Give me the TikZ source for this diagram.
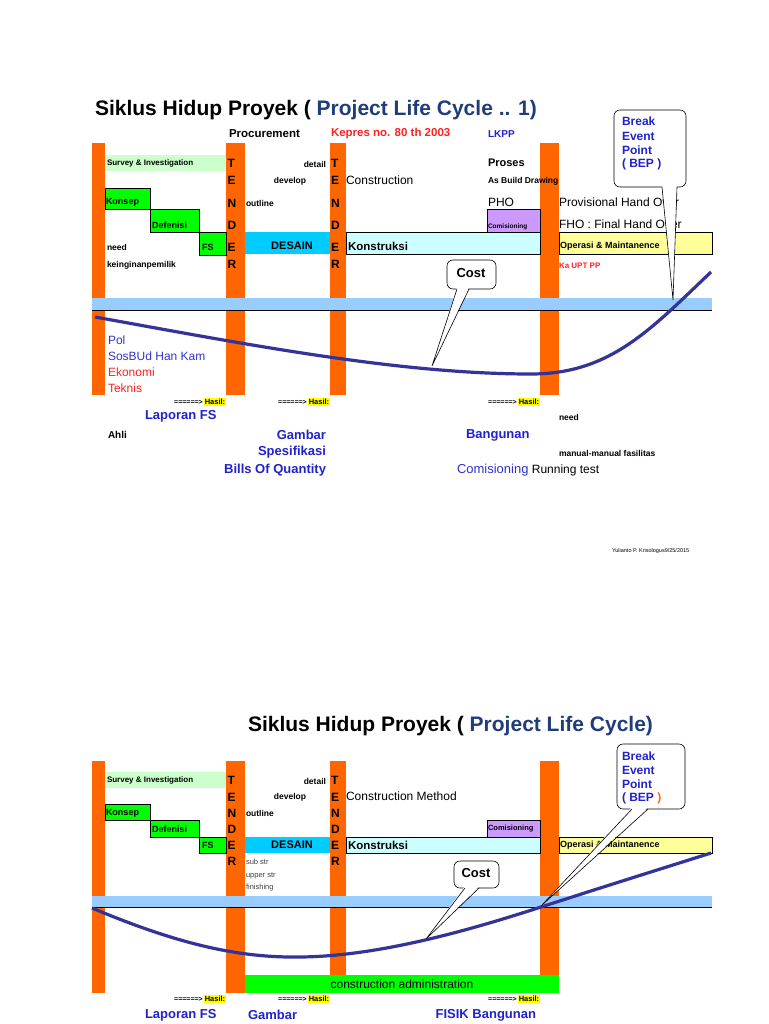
\documentclass[tikz,border=0pt]{standalone}
\usepackage{fontspec}
\setmainfont{Liberation Sans}
\begin{document}
\definecolor{orng}{HTML}{FF6600}
\definecolor{band}{HTML}{99CCFF}
\definecolor{lgreen}{HTML}{CCFFCC}
\definecolor{grn}{HTML}{00FF00}
\definecolor{cyn}{HTML}{00CCFF}
\definecolor{lcyn}{HTML}{CCFFFF}
\definecolor{purp}{HTML}{CC99FF}
\definecolor{lyel}{HTML}{FFFF99}
\definecolor{yel}{HTML}{FFFF00}
\definecolor{navy}{HTML}{1F3D7A}
\definecolor{tblue}{HTML}{2222CC}
\definecolor{lblue}{HTML}{3333CC}
\definecolor{tred}{HTML}{FF2222}
\definecolor{curv}{HTML}{333399}
\begin{tikzpicture}[x=1pt,y=-1pt,
  every node/.style={inner sep=0pt, outer sep=0pt},
  fz/.style={font=\fontsize{#1}{#1}\selectfont},
  bfz/.style={font=\fontsize{#1}{#1}\selectfont\bfseries},
  L/.style={anchor=west},
  R/.style={anchor=east},
  bar/.style={fill=orng},
  bx/.style={draw=black, line width=0.6pt},
  cost/.style={curv, line width=3.2pt},
  call/.style={draw=black, fill=white, rounded corners=6pt, line width=0.6pt}]
\useasboundingbox (0,0) rectangle (768,1024);
\fill[white] (0,0) rectangle (768,1024);

% ================= SLIDE 1 =================
\node[L,bfz=21] (t1a) at (95,110) {Siklus Hidup Proyek (};
\node[L,bfz=21,text=navy] (t1b) at (t1a.east) {\ Project Life Cycle .. 1)};

\node[L,bfz=11.5] (proc1) at (229,134) {Procurement};
\node[L,bfz=11.5,text=tred] (kep1) at (331,134) {Kepres no. 80 th 2003};
\node[L,bfz=10,text=tblue] (lkpp1) at (488,134) {LKPP};

\fill[bar] (92,143) rectangle (105,395);
\fill[bar] (226,143) rectangle (245,395);
\fill[bar] (330,143) rectangle (346,395);
\fill[bar] (540,143) rectangle (559,395);

\fill[lgreen] (105,155) rectangle (226,171);
\node[L,bfz=8] (sur1) at (107,163) {Survey \& Investigation};
\draw[bx,fill=grn] (105,188) rectangle (150,209);
\node[L,bfz=9] (kon1) at (106,202) {Konsep};
\draw[bx,fill=grn] (150,209) rectangle (199,232);
\node[L,bfz=9] (def1) at (152,225) {Defenisi};
\draw[bx,fill=grn] (199,232) rectangle (226,255);
\node[L,bfz=9] (fs1) at (202,247) {FS};
\fill[cyn] (245,232) rectangle (330,254);
\node[bfz=11] (des1) at (292,246) {DESAIN};
\draw[bx,fill=lcyn] (346,232) rectangle (540,254);
\node[L,bfz=11.5] (ks1) at (348,246) {Konstruksi};
\draw[bx,fill=purp] (487,209) rectangle (540,232);
\node[L,bfz=6.5] (com1) at (488,227) {Comisioning};
\draw[bx,fill=lyel] (559,232) rectangle (712,254);
\node[L,bfz=9] (op1) at (560,246) {Operasi \& Maintanence};

\foreach \l/\y [count=\i] in {T/163,E/180,N/203,D/225,E/247,R/264}{
  \node[L,bfz=12] (ta\i) at (227.5,\y) {\l};
  \node[L,bfz=12] (tb\i) at (331,\y) {\l};
}
\node[R,bfz=8.5] (det1) at (326,164) {detail};
\node[bfz=8.5] (dev1) at (290,181) {develop};
\node[L,bfz=8.5] (out1) at (246,203) {outline};
\node[L,fz=12] (con1) at (346,180) {Construction};
\node[L,bfz=11] (pro1) at (488,163) {Proses};
\node[L,bfz=8.5] (abd1) at (488,181) {As Build Drawing};
\node[L,fz=12] (pho1) at (488,202) {PHO};
\node[L,fz=12] (pvh1) at (559,202) {Provisional Hand Over};
\node[L,fz=12] (fho1) at (559,224) {FHO : Final Hand Over};
\node[L,bfz=8.5] (need1) at (107,247) {need};
\node[L,bfz=8.5] (kei1) at (107,265) {keinginanpemilik};
\node[L,bfz=8,text=tred] (ka1) at (559,266) {Ka UPT PP};

\fill[band] (92,298) rectangle (712,310);
\draw[line width=0.8pt] (92,310) -- (712,310);

\draw[cost] (95,317) .. controls (250,345) and (400,374) .. (531,374) .. controls (610,374) and (650,330) .. (711,272);
\coordinate (c1tip) at (432,366);
\coordinate (b1tip) at (673,300);

\node[L,fz=12,text=lblue] (pol1) at (108,340) {Pol};
\node[L,fz=12,text=lblue] (sos1) at (108,356) {SosBUd Han Kam};
\node[L,fz=12,text=tred] (eko1) at (108,372) {Ekonomi};
\node[L,fz=12,text=tred] (tek1) at (108,388) {Teknis};

\foreach \x/\n in {226/a,330/b,540/c}{
  \node[R,bfz=7.5,fill=yel,inner sep=0.8pt] (h1\n) at (\x,402) {Hasil:};
  \node[R,bfz=7] (e1\n) at (h1\n.west) {======>\,};
}
\node[L,bfz=13,text=tblue] (lap1) at (145,416) {Laporan FS};
\node[L,bfz=10] (ahli1) at (108,435) {Ahli};
\node[R,bfz=13,text=tblue] (gam1) at (326,435) {Gambar};
\node[R,bfz=13,text=tblue] (spe1) at (326,452) {Spesifikasi};
\node[R,bfz=13,text=tblue] (boq1) at (326,470) {Bills Of Quantity};
\node[L,bfz=13,text=tblue] (ban1) at (466,435) {Bangunan};
\node[L,bfz=8.5] (need1b) at (559,417) {need};
\node[L,bfz=8.5] (man1) at (559,453) {manual-manual fasilitas};
\node[L,fz=13,text=lblue] (comi1) at (457,470) {Comisioning};
\node[L,fz=12] (run1) at (comi1.east) {\ Running test};
\node[L,fz=5.5] (yul1) at (612,551) {Yulianto P. Krisologus9/25/2015};

% callouts slide 1
\draw[call] (447,260) rectangle (496,289);
\fill[white] (457,287) -- (c1tip) -- (469,287) -- cycle;
\draw[line width=0.6pt] (457,289) -- (c1tip) -- (469,289);
\node[bfz=13] (cost1) at (471,273) {Cost};
\draw[call] (614,110) rectangle (686,187);
\fill[white] (662,185) -- (b1tip) -- (677,185) -- cycle;
\draw[line width=0.6pt] (662,187) -- (b1tip) -- (677,187);
\node[L,bfz=12,text=tblue] (bepa) at (622,121) {Break};
\node[L,bfz=12,text=tblue] (bepb) at (622,136) {Event};
\node[L,bfz=12,text=tblue] (bepc) at (622,150) {Point};
\node[L,bfz=12,text=tblue] (bepd) at (622,164) {( BEP )};

% ================= SLIDE 2 =================
\node[L,bfz=21] (t2a) at (248,726) {Siklus Hidup Proyek (};
\node[L,bfz=21,text=navy] (t2b) at (t2a.east) {\ Project Life Cycle)};

\fill[bar] (92,761) rectangle (105,993);
\fill[bar] (226,761) rectangle (245,993);
\fill[bar] (330,761) rectangle (346,975);
\fill[bar] (540,761) rectangle (559,975);
\fill[grn] (245,975) rectangle (559,993);
\node[fz=12] (cadm) at (402,984) {construction administration};

\fill[lgreen] (105,772) rectangle (226,788);
\node[L,bfz=8] (sur2) at (107,780) {Survey \& Investigation};
\draw[bx,fill=grn] (105,804) rectangle (150,820);
\node[L,bfz=9] (kon2) at (106,813) {Konsep};
\draw[bx,fill=grn] (150,820) rectangle (199,837);
\node[L,bfz=9] (def2) at (152,829) {Defenisi};
\draw[bx,fill=grn] (199,837) rectangle (226,853);
\node[L,bfz=9] (fs2) at (202,845) {FS};
\fill[cyn] (245,837) rectangle (330,853);
\node[bfz=11] (des2) at (292,845) {DESAIN};
\draw[bx,fill=lcyn] (346,837) rectangle (540,853);
\node[L,bfz=11.5] (ks2) at (348,845) {Konstruksi};
\draw[bx,fill=purp] (487,820) rectangle (540,837);
\node[L,bfz=7.5] (com2) at (488,829) {Comisioning};
\draw[bx,fill=lyel] (559,837) rectangle (712,853);
\node[L,bfz=9] (op2) at (560,845) {Operasi \& Maintanence};

\foreach \l/\y [count=\i] in {T/780,E/797,N/813,D/829,E/845,R/861}{
  \node[L,bfz=12] (tc\i) at (227.5,\y) {\l};
  \node[L,bfz=12] (td\i) at (331,\y) {\l};
}
\node[R,bfz=8.5] (det2) at (326,781) {detail};
\node[bfz=8.5] (dev2) at (290,797) {develop};
\node[L,bfz=8.5] (out2) at (246,813) {outline};
\node[L,fz=12] (con2) at (346,796) {Construction Method};
\node[L,fz=7.5,text=black!75] (sub2) at (246,862) {sub str};
\node[L,fz=7.5,text=black!75] (upp2) at (246,876) {upper str};
\node[L,fz=7.5,text=black!75] (fin2) at (246,888) {finishing};

\fill[band] (92,896) rectangle (712,907);
\draw[line width=0.8pt] (92,907) -- (712,907);

\draw[cost] (92,908) .. controls (180,945) and (240,958) .. (301,957) .. controls (380,956) and (470,930) .. (541,907) .. controls (600,888) .. (711,853);
\coordinate (c2tip) at (426,939);
\coordinate (b2tip) at (541,906);

\foreach \x/\n in {226/a,330/b,540/c}{
  \node[R,bfz=7.5,fill=yel,inner sep=0.8pt] (h2\n) at (\x,999) {Hasil:};
  \node[R,bfz=7] (e2\n) at (h2\n.west) {======>\,};
}
\node[L,bfz=13,text=tblue] (lap2) at (145,1015) {Laporan FS};
\node[L,bfz=13,text=tblue] (gam2) at (248,1015) {Gambar};
\node[R,bfz=13,text=tblue] (fis2) at (536,1015) {FISIK Bangunan};

\draw[call] (454,861) rectangle (499,888);
\fill[white] (465,886) -- (c2tip) -- (479,886) -- cycle;
\draw[line width=0.6pt] (465,888) -- (c2tip) -- (479,888);
\node[bfz=13] (cost2) at (476,873) {Cost};
\draw[call] (617,744) rectangle (685,809);
\fill[white] (632,807) -- (b2tip) -- (648,807) -- cycle;
\draw[line width=0.6pt] (632,809) -- (b2tip) -- (648,809);
\node[L,bfz=12,text=tblue] (bep2a) at (622,756) {Break};
\node[L,bfz=12,text=tblue] (bep2b) at (622,770) {Event};
\node[L,bfz=12,text=tblue] (bep2c) at (622,784) {Point};
\node[L,bfz=12,text=tblue] (bep2d) at (622,798) {( BEP \textcolor{orng}{)}};
\end{tikzpicture}
\end{document}
